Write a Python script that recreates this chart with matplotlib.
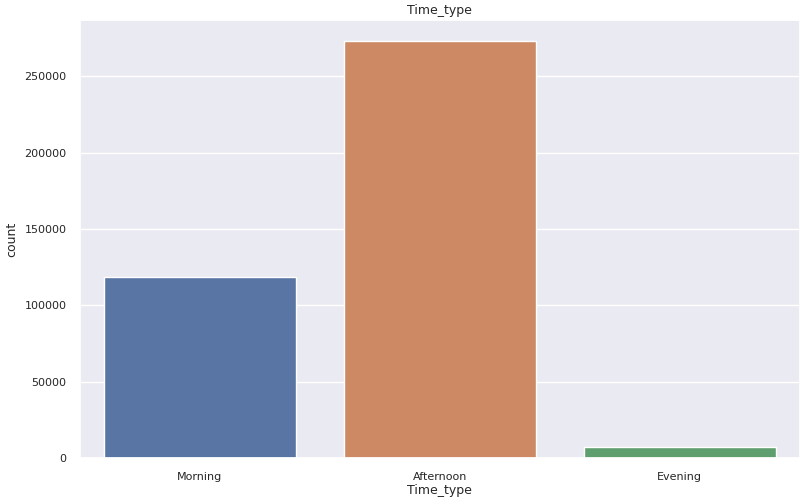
import numpy as np
import pandas as pd
import matplotlib
matplotlib.use('Agg')
import matplotlib.pyplot as plt
import seaborn as sns

sns.set_theme(style='darkgrid')

# 時間帯ごとの件数
categories = ['Morning', 'Afternoon', 'Evening']
counts = [118300, 273000, 7200]

df = pd.DataFrame({'Time_type': categories, 'count': counts})

fig, ax = plt.subplots(figsize=(8.12, 5.01))
sns.barplot(data=df, x='Time_type', y='count', hue='Time_type',
            palette=sns.color_palette('deep', 3), ax=ax, legend=False)
ax.set_title('Time_type', fontsize=9, pad=4)
ax.set_xlabel('Time_type', fontsize=9, labelpad=2)
ax.set_ylabel('count', fontsize=9)
ax.tick_params(labelsize=8)
plt.subplots_adjust(left=0.098, right=0.985, top=0.96, bottom=0.085)
plt.savefig('out.png', dpi=100)
plt.close('all')
